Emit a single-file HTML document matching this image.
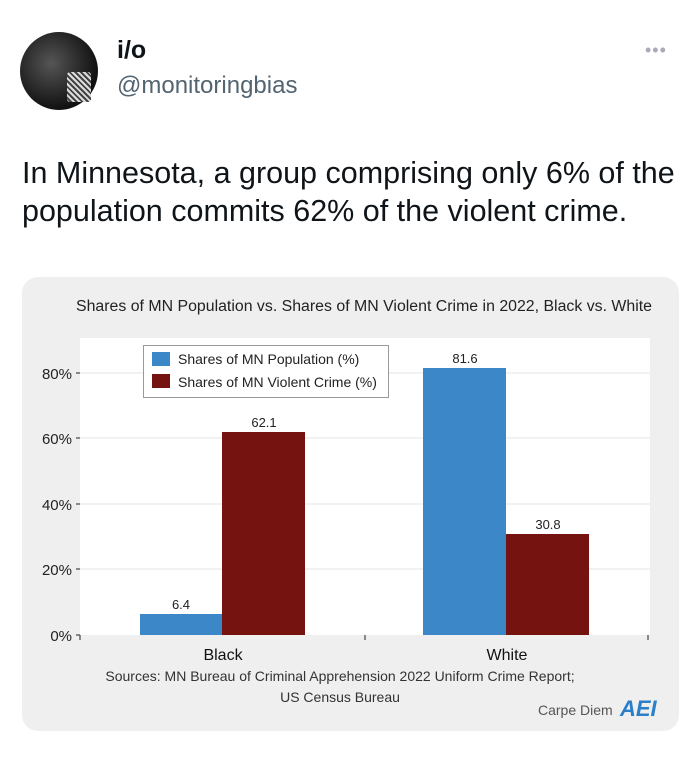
<!DOCTYPE html>
<html><head><meta charset="utf-8"><style>
body{margin:0;width:700px;height:761px;background:#fff;font-family:"Liberation Sans",sans-serif;position:relative;overflow:hidden}
.a{position:absolute}
</style></head><body>
<div class="a" style="left:20px;top:32px;width:78px;height:78px;border-radius:50%;background:radial-gradient(circle at 40% 40%,#555,#111 70%)"></div>
<div class="a" style="left:67px;top:72px;width:24px;height:30px;background:repeating-linear-gradient(45deg,#ddd 0 2px,#444 2px 4px);border-radius:3px"></div>
<div class="a" style="left:117px;top:36px;font-size:25px;font-weight:bold;color:#0f1419">i/o</div>
<div class="a" style="left:117px;top:72px;font-size:24px;color:#536471">@monitoringbias</div>
<div class="a" style="left:645px;top:40px;font-size:18px;color:#aab;letter-spacing:1px">•••</div>
<div class="a" style="left:22px;top:154px;font-size:30.5px;line-height:38px;color:#0f1419;width:678px">In Minnesota, a group comprising only 6% of the population commits 62% of the violent crime.</div>
<div class="a" style="left:22px;top:277px;width:657px;height:454px;background:#efefef;border-radius:16px"></div>
<svg class="a" style="left:0;top:0" width="700" height="761" font-family="Liberation Sans, sans-serif">
<text x="76" y="311" font-size="15.5" textLength="576" lengthAdjust="spacingAndGlyphs" fill="#222">Shares of MN Population vs. Shares of MN Violent Crime in 2022, Black vs. White</text>
<rect x="80" y="338" width="570" height="297" fill="#fff"/>
<g stroke="#e6e6e6"><line x1="80" x2="650" y1="373" y2="373"/><line x1="80" x2="650" y1="438" y2="438"/><line x1="80" x2="650" y1="504" y2="504"/><line x1="80" x2="650" y1="569" y2="569"/></g>
<g stroke="#444" stroke-width="1.2"><line x1="76" x2="80" y1="373" y2="373"/><line x1="76" x2="80" y1="438" y2="438"/><line x1="76" x2="80" y1="504" y2="504"/><line x1="76" x2="80" y1="569" y2="569"/><line x1="76" x2="80" y1="635" y2="635"/><line x1="80" x2="80" y1="635" y2="640"/><line x1="365" x2="365" y1="635" y2="640"/><line x1="648" x2="648" y1="635" y2="640"/></g>
<g font-size="15" fill="#222" text-anchor="end"><text x="72" y="379">80%</text><text x="72" y="444">60%</text><text x="72" y="510">40%</text><text x="72" y="575">20%</text><text x="72" y="641">0%</text></g>
<rect x="140" y="614" width="82" height="21" fill="#3c87c8"/>
<rect x="222" y="432" width="83" height="203" fill="#74130f"/>
<rect x="423" y="368" width="83" height="267" fill="#3c87c8"/>
<rect x="506" y="534" width="83" height="101" fill="#74130f"/>
<g font-size="13" fill="#222" text-anchor="middle"><text x="181" y="609">6.4</text><text x="264" y="427">62.1</text><text x="465" y="363">81.6</text><text x="548" y="529">30.8</text></g>
<rect x="143.5" y="345.5" width="245" height="52" fill="#fff" stroke="#999"/>
<rect x="152" y="352" width="18" height="14" fill="#3c87c8"/><rect x="152" y="374" width="18" height="14" fill="#74130f"/>
<g font-size="14" fill="#222"><text x="178" y="364">Shares of MN Population (%)</text><text x="178" y="387">Shares of MN Violent Crime (%)</text></g>
<g font-size="16" fill="#111" text-anchor="middle"><text x="223" y="660">Black</text><text x="507" y="660">White</text></g>
<g font-size="14" fill="#333" text-anchor="middle"><text x="340" y="681">Sources: MN Bureau of Criminal Apprehension 2022 Uniform Crime Report;</text><text x="340" y="702">US Census Bureau</text></g>
<text x="538" y="715" font-size="14" fill="#555">Carpe Diem</text>
<text x="620" y="716" font-size="22" font-weight="bold" font-style="italic" fill="#2a7fc8">AEI</text>
</svg>
</body></html>
